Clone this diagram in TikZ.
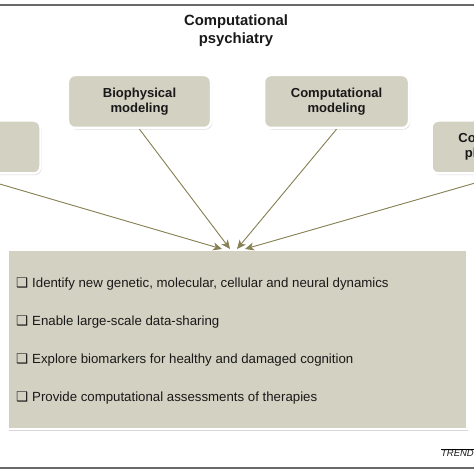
\documentclass[tikz,border=0pt]{standalone}
\usepackage{fontspec}
\setmainfont{Liberation Sans}
\newfontfamily\symfont{DejaVu Sans}
\usetikzlibrary{arrows.meta, positioning, shadows}
\definecolor{boxbeige}{RGB}{211, 209, 194}
\definecolor{arrowolive}{RGB}{135, 130, 85}
\definecolor{rulegray}{RGB}{105, 105, 105}
\definecolor{textdark}{RGB}{25, 25, 25}
\tikzset{
    topicbox/.style={draw=white, line width=2.5pt, fill=boxbeige, rounded corners=7pt, minimum width=143bp, minimum height=53bp, font=\fontsize{13.1}{15}\selectfont\bfseries, align=center, text=textdark, drop shadow={opacity=0.3, shadow xshift=1.2pt, shadow yshift=-1.6pt}},
    goalbox/.style={draw=white, line width=1.6pt, fill=boxbeige, minimum width=459bp, minimum height=179bp, drop shadow={opacity=0.3, shadow xshift=1.2pt, shadow yshift=-1.6pt}},
    goalitem/.style={anchor=base west, inner sep=0pt, font=\fontsize{13.3}{15}\selectfont, text=textdark},
    tickbox/.style={anchor=base west, inner sep=0pt, font=\symfont\fontsize{13.5}{15}\selectfont, text=textdark},
    feedarrow/.style={-{Stealth[length=9bp, width=8bp, inset=2.5bp]}, draw=arrowolive, fill=arrowolive!85, line width=0.9pt},
    rule/.style={draw=rulegray, line width=1.5bp},
}

\begin{document}
\begin{tikzpicture}[x=1bp, y=1bp]
    \path[use as bounding box, fill=white] (0,0) rectangle (474,474);
    % frame rules
    \coordinate (topl) at (0,469);
    \coordinate (topr) at (474,469);
    \coordinate (botl) at (0,6);
    \coordinate (botr) at (474,6);
    \draw[rule] (topl) -- (topr);
    \draw[rule] (botl) -- (botr);

    % title
    \node[font=\fontsize{14.9}{18}\selectfont\bfseries, align=center, text=textdark] (title) at (236,443) {Computational\\psychiatry};

    % topic boxes
    \node[topicbox, minimum width=145bp] (leftbox) at (-32,327) {};
    \node[topicbox] (biobox) at (139.5,372.5) {Biophysical\\modeling};
    \node[topicbox, minimum width=145bp] (compbox) at (336.5,372.5) {Computational\\modeling};
    \node[topicbox, minimum width=145bp] (rightbox) at (504,327) {Computational\\phenotyping};

    % goals block
    \node[goalbox] (goals) at (237.5,134.5) {};
    \foreach \i/\yy/\txt in {1/186/{Identify new genetic, molecular, cellular and neural dynamics},
                            2/148/{Enable large-scale data-sharing},
                            3/110/{Explore biomarkers for healthy and damaged cognition},
                            4/72/{Provide computational assessments of therapies}} {
        \node[tickbox] (tick\i) at (16,\yy) {❑};
        \node[goalitem] (item\i) at (32,\yy) {\txt};
    }

    % arrows into the goals block
    \coordinate (hubl) at (222,225);
    \coordinate (hubb) at (230,225);
    \coordinate (hubc) at (237,225);
    \coordinate (hubr) at (245,225);
    \draw[feedarrow] (leftbox.south) -- (hubl);
    \draw[feedarrow] (biobox.south) -- (hubb);
    \draw[feedarrow] (compbox.south) -- (hubc);
    \draw[feedarrow] (rightbox.south) -- (hubr);

    % journal tag
    \coordinate (tagl) at (441,25);
    \coordinate (tagr) at (474,25);
    \draw[black, line width=0.5pt] (tagl) -- (tagr);
    \node[anchor=base west, inner sep=0pt, font=\fontsize{9.5}{11}\selectfont\itshape, text=textdark] (tag) at (441,17) {TRENDS};
\end{tikzpicture}
\end{document}
